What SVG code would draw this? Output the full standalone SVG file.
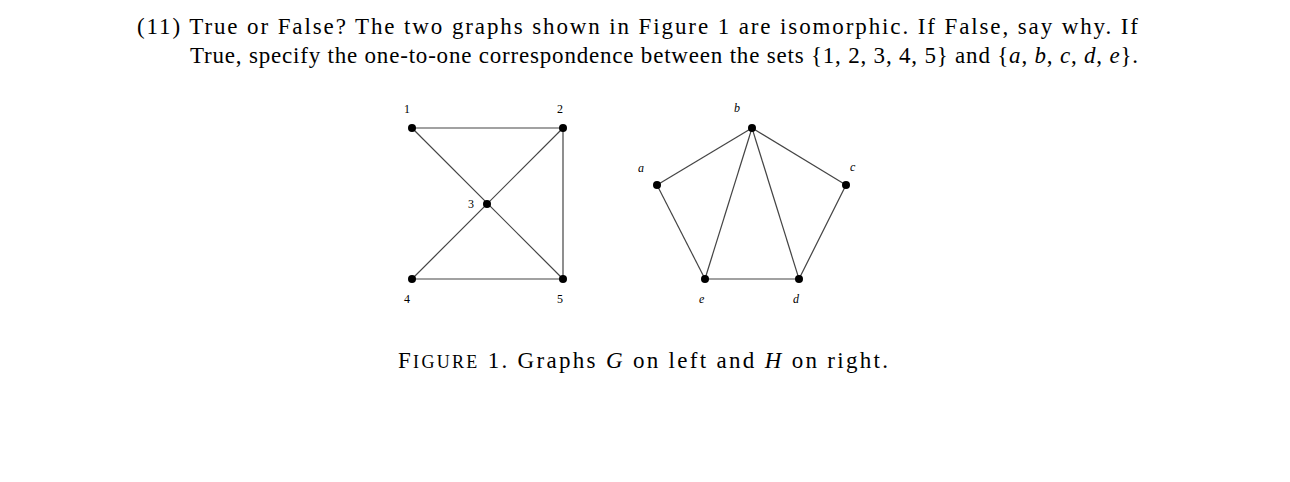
<svg xmlns="http://www.w3.org/2000/svg" width="1290" height="482" viewBox="0 0 1290 482">
<style>
text{font-family:"Liberation Serif","DejaVu Serif",serif;fill:#000}
.t{font-size:23px}
.l{font-size:12px}
.i{font-style:italic}
line{stroke:#444;stroke-width:1.2}
circle{fill:#000}
</style>
<rect width="1290" height="482" fill="#fff"/>
<text class="t" x="137" y="34" textLength="1001" lengthAdjust="spacing">(11) True or False? The two graphs shown in Figure 1 are isomorphic. If False, say why. If</text>
<text class="t" x="190" y="63" textLength="948" lengthAdjust="spacing">True, specify the one-to-one correspondence between the sets {1, 2, 3, 4, 5} and {<tspan class="i">a</tspan>, <tspan class="i">b</tspan>, <tspan class="i">c</tspan>, <tspan class="i">d</tspan>, <tspan class="i">e</tspan>}.</text>
<g id="edges">
<line x1="412" y1="128" x2="563" y2="128"/><line x1="412" y1="128" x2="563" y2="279"/><line x1="563" y1="128" x2="412" y2="279"/><line x1="412" y1="279" x2="563" y2="279"/><line x1="563" y1="128" x2="563" y2="279"/>
<line x1="657" y1="185" x2="752" y2="128"/><line x1="752" y1="128" x2="846" y2="185"/><line x1="657" y1="185" x2="705" y2="279"/><line x1="752" y1="128" x2="705" y2="279"/><line x1="752" y1="128" x2="799" y2="279"/><line x1="846" y1="185" x2="799" y2="279"/><line x1="705" y1="279" x2="799" y2="279"/>
</g>
<g id="n1"><circle cx="412" cy="128" r="4"/><text class="l" x="404" y="113">1</text></g>
<g id="n2"><circle cx="563" cy="128" r="4"/><text class="l" x="557" y="113">2</text></g>
<g id="n3"><circle cx="487" cy="204" r="4"/><text class="l" x="468" y="208">3</text></g>
<g id="n4"><circle cx="412" cy="279" r="4"/><text class="l" x="404" y="303">4</text></g>
<g id="n5"><circle cx="563" cy="279" r="4"/><text class="l" x="557" y="303">5</text></g>
<g id="na"><circle cx="657" cy="185" r="4"/><text class="l i" x="638" y="172">a</text></g>
<g id="nb"><circle cx="752" cy="128" r="4"/><text class="l i" x="734" y="112">b</text></g>
<g id="nc"><circle cx="846" cy="185" r="4"/><text class="l i" x="850" y="171">c</text></g>
<g id="nd"><circle cx="799" cy="279" r="4"/><text class="l i" x="793" y="303">d</text></g>
<g id="ne"><circle cx="705" cy="279" r="4"/><text class="l i" x="699" y="303">e</text></g>
<text class="t" x="398" y="368" textLength="490" lengthAdjust="spacing">F<tspan font-size="18">IGURE</tspan> 1. Graphs <tspan class="i">G</tspan> on left and <tspan class="i">H</tspan> on right.</text>
</svg>
